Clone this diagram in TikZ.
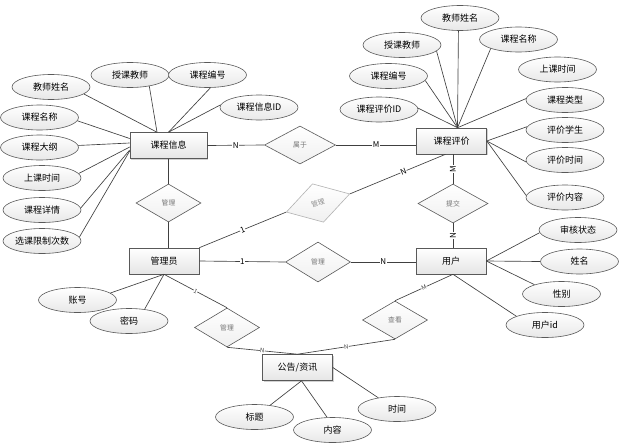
\documentclass[tikz,border=0pt]{standalone}
\usepackage{fontspec}
\setmainfont{Noto Sans CJK SC}
\usetikzlibrary{shapes.geometric,shadows,calc}
\begin{document}
\begin{tikzpicture}[x=1pt,y=-1pt,
  ent/.style={rectangle, draw=black!65, line width=0.6pt, minimum width=70pt, minimum height=26pt, inner sep=0pt, top color=white, bottom color=black!10, drop shadow={shadow xshift=1.2pt, shadow yshift=-1.2pt, opacity=0.35, fill=black!50}, font=\fontsize{9}{10}\selectfont},
  attr/.style={ellipse, draw=black!65, line width=0.6pt, minimum width=78pt, minimum height=25pt, inner sep=0pt, top color=white, bottom color=black!9, font=\fontsize{9}{10}\selectfont},
  rel/.style={diamond, draw=black!65, line width=0.6pt, minimum width=65pt, minimum height=38pt, inner sep=0pt, top color=white, bottom color=black!6, text=black!55, font=\fontsize{6.8}{7}\selectfont},
  conn/.style={draw=black!75, line width=0.65pt},
  card/.style={font=\fontsize{8}{9}\selectfont, fill=white, inner sep=0.4pt, text=black},
  cardsm/.style={font=\fontsize{6}{7}\selectfont, fill=white, inner sep=0.3pt, text=black!75}
]
\useasboundingbox (0,0) rectangle (623,447);
\fill[white] (0,0) rectangle (623,447);

% entities
\node[ent, minimum width=77pt] (ki) at (168.5,145.5) {课程信息};
\node[ent] (kp) at (451.5,141) {课程评价};
\node[ent] (gly) at (164,261) {管理员};
\node[ent] (yh) at (451,261) {用户};
\node[ent] (gg) at (297.5,367.5) {公告/资讯};

% relations
\node[rel, minimum width=71pt] (sy) at (300,145) {属于};
\node[rel] (gl1) at (168.5,203) {管理};
\node[rel, rotate=16, draw=black!30, text=black!45, minimum width=66pt, minimum height=40pt] (rd) at (318,203) {管理};
\node[rel, minimum width=70pt, minimum height=39pt] (tj) at (453,203.5) {提交};
\node[rel, minimum height=40pt] (gm) at (318,262) {管理};
\node[rel, minimum height=39pt] (gl2) at (227,327.5) {管理};
\node[rel] (ck) at (395,320) {查看};

% attributes of 课程信息
\node[attr] (c1) at (51,87) {教师姓名};
\node[attr] (c2) at (130,75) {授课教师};
\node[attr] (c3) at (207.5,75) {课程编号};
\node[attr] (c4) at (259,107.5) {课程信息ID};
\node[attr] (c5) at (39.5,117.5) {课程名称};
\node[attr] (c6) at (39.5,147.5) {课程大纲};
\node[attr] (c7) at (42,178) {上课时间};
\node[attr] (c8) at (42,210) {课程详情};
\node[attr] (c9) at (42,241) {选课限制次数};

% attributes of 课程评价
\node[attr] (d1) at (460,18) {教师姓名};
\node[attr] (d2) at (402,45) {授课教师};
\node[attr] (d3) at (518.5,39.5) {课程名称};
\node[attr] (d4) at (557.5,69.5) {上课时间};
\node[attr] (d5) at (388.5,76) {课程编号};
\node[attr] (d6) at (379,109.5) {课程评价ID};
\node[attr] (d7) at (565,100) {课程类型};
\node[attr] (d8) at (565,130) {评价学生};
\node[attr] (d9) at (565,160) {评价时间};
\node[attr] (d10) at (565,197.5) {评价内容};

% attributes of 用户
\node[attr] (e1) at (578,230) {审核状态};
\node[attr] (e2) at (579.5,261.5) {姓名};
\node[attr] (e3) at (561.5,294) {性别};
\node[attr] (e4) at (545,325) {用户id};

% attributes of 管理员
\node[attr] (f1) at (77.5,300) {账号};
\node[attr] (f2) at (129,321) {密码};

% attributes of 公告/资讯
\node[attr] (g1) at (254.5,417) {标题};
\node[attr] (g2) at (332.5,430) {内容};
\node[attr] (g3) at (397,409) {时间};

% helper coordinates
\coordinate (kiA) at ($(ki.north)+(-11.5,0)$);
\coordinate (kiL1) at ($(ki.west)+(0,-7)$);
\coordinate (kiL2) at ($(ki.west)+(0,-2.5)$);
\coordinate (kiL3) at ($(ki.west)+(0,1.5)$);
\coordinate (kiL4) at ($(ki.west)+(0,4.5)$);
\coordinate (kiL5) at ($(ki.west)+(0,5.5)$);
\coordinate (kpT) at ($(kp.north)+(6,0)$);
\coordinate (kpB) at ($(kp.south)+(-6,0)$);
\coordinate (yhB) at ($(yh.south)+(2,0)$);
\coordinate (ggB) at ($(gg.south)+(4,0)$);

% relationship connectors
\draw[conn] (ki.east) -- node[card]{N} (sy.west);
\draw[conn] (sy.east) -- node[card]{M} (sy.east -| kp.west);
\draw[conn] (ki.south) -- (gl1.north);
\draw[conn] (gl1.south) -- (gl1.south |- gly.north);
\draw[conn] (gly.north east) -- node[card, sloped]{1} (rd.west);
\draw[conn] (rd.east) -- node[card, sloped, pos=0.56]{N} (kpB);
\draw[conn] (tj.north |- kp.south) -- node[card, rotate=90]{M} (tj.north);
\draw[conn] (tj.south) -- node[card, rotate=90]{N} (tj.south |- yh.north);
\draw[conn] (gly.east) -- node[card]{1} (gm.west);
\draw[conn] (gm.east) -- node[card]{N} (gm.east -| yh.west);
\draw[conn] (gly.south) -- node[cardsm, sloped]{1} (gl2.north);
\draw[conn] (gl2.south) -- node[cardsm, sloped]{N} (gg.north);
\draw[conn] (yhB) -- node[cardsm, sloped]{M} (ck.north);
\draw[conn] (ck.south) -- node[cardsm, sloped]{N} (gg.north);

% attribute connectors
\draw[conn] (c1.-12) -- (kiA);
\draw[conn] (c2.-30) -- (kiA);
\draw[conn] (c3.-77) -- (ki.north);
\draw[conn] (c4.176) -- (ki.north);
\draw[conn] (c5.-5) -- (kiL1);
\draw[conn] (c6.3) -- (kiL2);
\draw[conn] (c7.7) -- (kiL3);
\draw[conn] (c8.3) -- (kiL4);
\draw[conn] (c9.6) -- (kiL5);

\draw[conn] (d1.-97) -- (kpT);
\draw[conn] (d2.-10) -- (kpT);
\draw[conn] (d3.198) -- (kpT);
\draw[conn] (d5.-7) -- (kpT);
\draw[conn] (d6.2) -- (kpT);
\draw[conn] (d7.178) -- (kpT);
\draw[conn] (d8.175) -- (kp.east);
\draw[conn] (d9.183) -- (kp.east);
\draw[conn] (d10.177) -- (kp.east);

\draw[conn] (e1.184) -- (yh.east);
\draw[conn] (e2.west) -- (yh.east);
\draw[conn] (e3.161) -- (yh.east);
\draw[conn] (e4.163) -- (yhB);

\draw[conn] (f1.12) -- (gly.south);
\draw[conn] (f2.37) -- (gly.south);

\draw[conn] (g1.37) -- (ggB);
\draw[conn] (g2.113) -- (ggB);
\draw[conn] (g3.149) -- (gg.east);
\end{tikzpicture}
\end{document}
